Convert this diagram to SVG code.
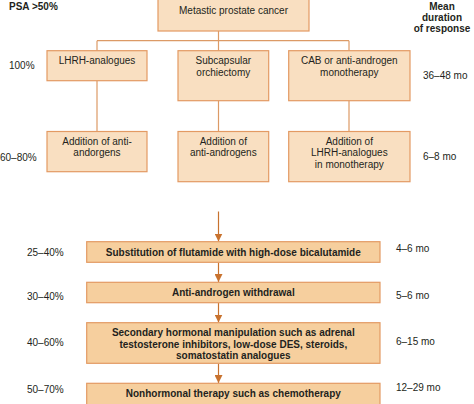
<svg xmlns="http://www.w3.org/2000/svg" width="474" height="404" viewBox="0 0 474 404">
<defs>
<style>
.t{font-family:"Liberation Sans",Arial,sans-serif;font-size:10px;fill:#231f20}
.b{font-weight:bold}
.m{text-anchor:middle}
.box{fill:#f9dfc1;stroke:#e39a63;stroke-width:1.2}
.box2{fill:#f6cf9e;stroke:#e39a63;stroke-width:1.2}
.ln{fill:none;stroke:#dc9a66;stroke-width:1.2}
.ar{fill:none;stroke:#c8722e;stroke-width:1.2}
</style>
<marker id="ah" viewBox="0 0 10 10" refX="10" refY="5" markerWidth="8" markerHeight="8" markerUnits="userSpaceOnUse" orient="auto">
<path d="M0,0 L10,5 L0,10 z" fill="#c8722e"/>
</marker>
</defs>
<rect width="474" height="404" fill="#ffffff"/>
<g id="labels">
<text class="t b" x="9" y="9.5">PSA &gt;50%</text>
<text class="t b m" x="442" y="9.5">Mean</text>
<text class="t b m" x="442" y="20.5">duration</text>
<text class="t b m" x="442" y="31.5">of response</text>
<text class="t" x="9" y="68.5">100%</text>
<text class="t" x="0" y="161">60–80%</text>
<text class="t" x="27" y="256">25–40%</text>
<text class="t" x="27" y="300">30–40%</text>
<text class="t" x="27" y="346">40–60%</text>
<text class="t" x="27" y="392.5">50–70%</text>
<text class="t" x="423" y="78.5">36–48 mo</text>
<text class="t" x="423" y="159.5">6–8 mo</text>
<text class="t" x="396" y="252">4–6 mo</text>
<text class="t" x="396" y="298.5">5–6 mo</text>
<text class="t" x="396" y="345">6–15 mo</text>
<text class="t" x="396" y="391">12–29 mo</text>
</g>
<g id="connectors">
<path class="ln" d="M218.5,31 V40.7 M97,40.7 H349 M97,40.7 V50.7 M218.5,40.7 V50.7 M349,40.7 V50.7"/>
<path class="ln" d="M97,80.7 V131.5 M218.5,100.7 V131.5 M349,100.7 V131.5"/>
<path class="ar" d="M218.5,211.5 V241.5" marker-end="url(#ah)"/>
<path class="ar" d="M218.5,262.5 V282" marker-end="url(#ah)"/>
<path class="ar" d="M218.5,303 V322.5" marker-end="url(#ah)"/>
<path class="ar" d="M218.5,363.5 V383" marker-end="url(#ah)"/>
</g>
<g id="n_top">
<rect class="box" x="158" y="-1" width="151" height="32"/>
<text class="t m" x="233.5" y="14.3">Metastic prostate cancer</text>
</g>
<g id="n_lhrh">
<rect class="box" x="47" y="50.7" width="100" height="30"/>
<text class="t m" x="97" y="64.3">LHRH-analogues</text>
</g>
<g id="n_sub">
<rect class="box" x="178" y="50.7" width="90.7" height="50"/>
<text class="t m" x="223.3" y="64.3">Subcapsular</text>
<text class="t m" x="223.3" y="76">orchiectomy</text>
</g>
<g id="n_cab">
<rect class="box" x="288.7" y="50.7" width="121.3" height="50"/>
<text class="t m" x="349.3" y="64.3">CAB or anti-androgen</text>
<text class="t m" x="349.3" y="75.8">monotherapy</text>
</g>
<g id="n_lhrh2">
<rect class="box" x="47" y="131.5" width="100" height="40.2"/>
<text class="t m" x="97" y="145">Addition of anti-</text>
<text class="t m" x="97" y="155.7">andorgens</text>
</g>
<g id="n_sub2">
<rect class="box" x="178" y="131.5" width="90.7" height="50.2"/>
<text class="t m" x="223.3" y="145">Addition of</text>
<text class="t m" x="223.3" y="155.7">anti-androgens</text>
</g>
<g id="n_cab2">
<rect class="box" x="288.7" y="131.5" width="121.3" height="50.2"/>
<text class="t m" x="349.3" y="145">Addition of</text>
<text class="t m" x="349.3" y="156.3">LHRH-analogues</text>
<text class="t m" x="349.3" y="167.7">in monotherapy</text>
</g>
<g id="n_b1">
<rect class="box2" x="86.7" y="241.7" width="293.3" height="20.6"/>
<text class="t b m" x="233.3" y="256">Substitution of flutamide with high-dose bicalutamide</text>
</g>
<g id="n_b2">
<rect class="box2" x="86.7" y="282.3" width="293.3" height="20.4"/>
<text class="t b m" x="233.3" y="295.8">Anti-androgen withdrawal</text>
</g>
<g id="n_b3">
<rect class="box2" x="86.7" y="322.7" width="293.3" height="40.6"/>
<text class="t b m" x="233.3" y="336">Secondary hormonal manipulation such as adrenal</text>
<text class="t b m" x="233.3" y="347.7">testosterone inhibitors, low-dose DES, steroids,</text>
<text class="t b m" x="233.3" y="359.3">somatostatin analogues</text>
</g>
<g id="n_b4">
<rect class="box2" x="86.7" y="383.3" width="293.3" height="24"/>
<text class="t b m" x="233.3" y="396.7">Nonhormonal therapy such as chemotherapy</text>
</g>
</svg>
